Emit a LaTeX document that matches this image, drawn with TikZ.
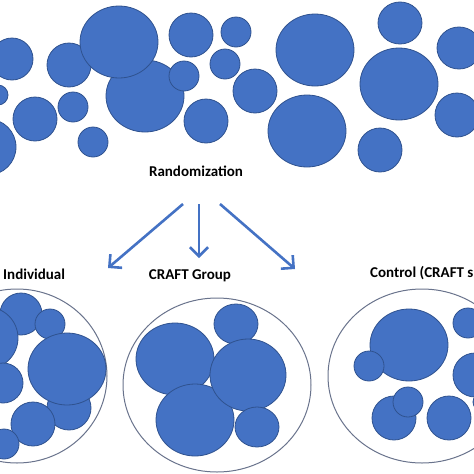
\documentclass[tikz,border=0pt]{standalone}
\usepackage{fontspec}
\setmainfont{Carlito}
\usepackage{tikz}
\usetikzlibrary{arrows.meta, positioning}
\definecolor{ppblue}{RGB}{68,114,196}
\definecolor{ppedge}{RGB}{47,82,143}
\definecolor{ppring}{RGB}{105,115,140}

\begin{document}
\begin{tikzpicture}[
    x=1pt, y=-1pt,
    font=\bfseries\fontsize{15}{18}\selectfont,
    blob/.style={fill=ppblue, draw=ppedge, line width=0.8pt},
    ring/.style={fill=white, draw=ppring, line width=1pt},
    arr/.style={-{Straight Barb[length=9pt,width=18pt,line width=2.6pt]}, line width=2.6pt, draw=ppblue},
    lbl/.style={inner sep=0pt, anchor=base, text=black},
]
\useasboundingbox (0,0) rectangle (474,474);
\clip (0,0) rectangle (474,474);

% --- Population before randomization (top) ---
\foreach \cx/\cy/\rx/\ry in {
    12/59/21/21, 69/65/22/22, -2/95/10/10, 35/119/22/22, 73/107/15/15,
    -12/147/28/28, 93/142/15/15, 145/96/39/36, 119/42/39/36, 184/76/15/15,
    191/35/22/22, 206/121/22/22, 236/32/15/15, 225/64/15/15, 255/91/22/22,
    315/50/39/36, 307/131/39/36, 400/23/22/21, 399/84/39/36, 459/48/22/21,
    457/115/22/22, 380/150/22/22}
  \draw[blob] (\cx,\cy) ellipse[x radius=\rx pt, y radius=\ry pt];

% --- Split label + arrows ---
\node[lbl] (rand) at (196,176) {Randomization};

\coordinate (toIndiv)   at (108,268);
\coordinate (toGroup)   at (199,258);
\coordinate (toControl) at (295,269);

\draw[arr] ([xshift=-13pt,yshift=-28pt]rand.base) -- (toIndiv);
\draw[arr] ([xshift=3pt,yshift=-28pt]rand.base)   -- (toGroup);
\draw[arr] ([xshift=24pt,yshift=-28pt]rand.base)  -- (toControl);

% --- Arm labels ---
\node[lbl, anchor=base west] (indiv)   at (3,279)   {Individual};
\node[lbl]                   (group)   at (190,279) {CRAFT Group};
\node[lbl, anchor=base west] (control) at (370,277) {Control (CRAFT s};

% --- Arms (rings) ---
\draw[ring] (17,376)  ellipse[x radius=90pt, y radius=87pt];
\draw[ring] (217,385) ellipse[x radius=94pt, y radius=87pt];
\draw[ring] (422,376) ellipse[x radius=94pt, y radius=87pt];

% --- Individual arm ---
\foreach \cx/\cy/\rx/\ry in {
    21/314/21/21, -13/338/31/31, 50/324/15/15, 3/383/20/20,
    69/408/22/22, 67/369/39/36, 33/424/22/22, 4/444/15/15}
  \draw[blob] (\cx,\cy) ellipse[x radius=\rx pt, y radius=\ry pt];

% --- Group arm ---
\foreach \cx/\cy/\rx/\ry in {
    236/324/22/20, 175/359/39/36, 195/420/39/36, 248/375/38/36, 257/427/22/20}
  \draw[blob] (\cx,\cy) ellipse[x radius=\rx pt, y radius=\ry pt];

% --- Control arm ---
\foreach \cx/\cy/\rx/\ry in {
    409/345/39/36, 369/366/15/15, 394/418/22/22, 408/402/15/15,
    449/418/22/22, 468/323/15/15, 475/375/22/22, 482/402/9/9}
  \draw[blob] (\cx,\cy) ellipse[x radius=\rx pt, y radius=\ry pt];
\end{tikzpicture}
\end{document}
